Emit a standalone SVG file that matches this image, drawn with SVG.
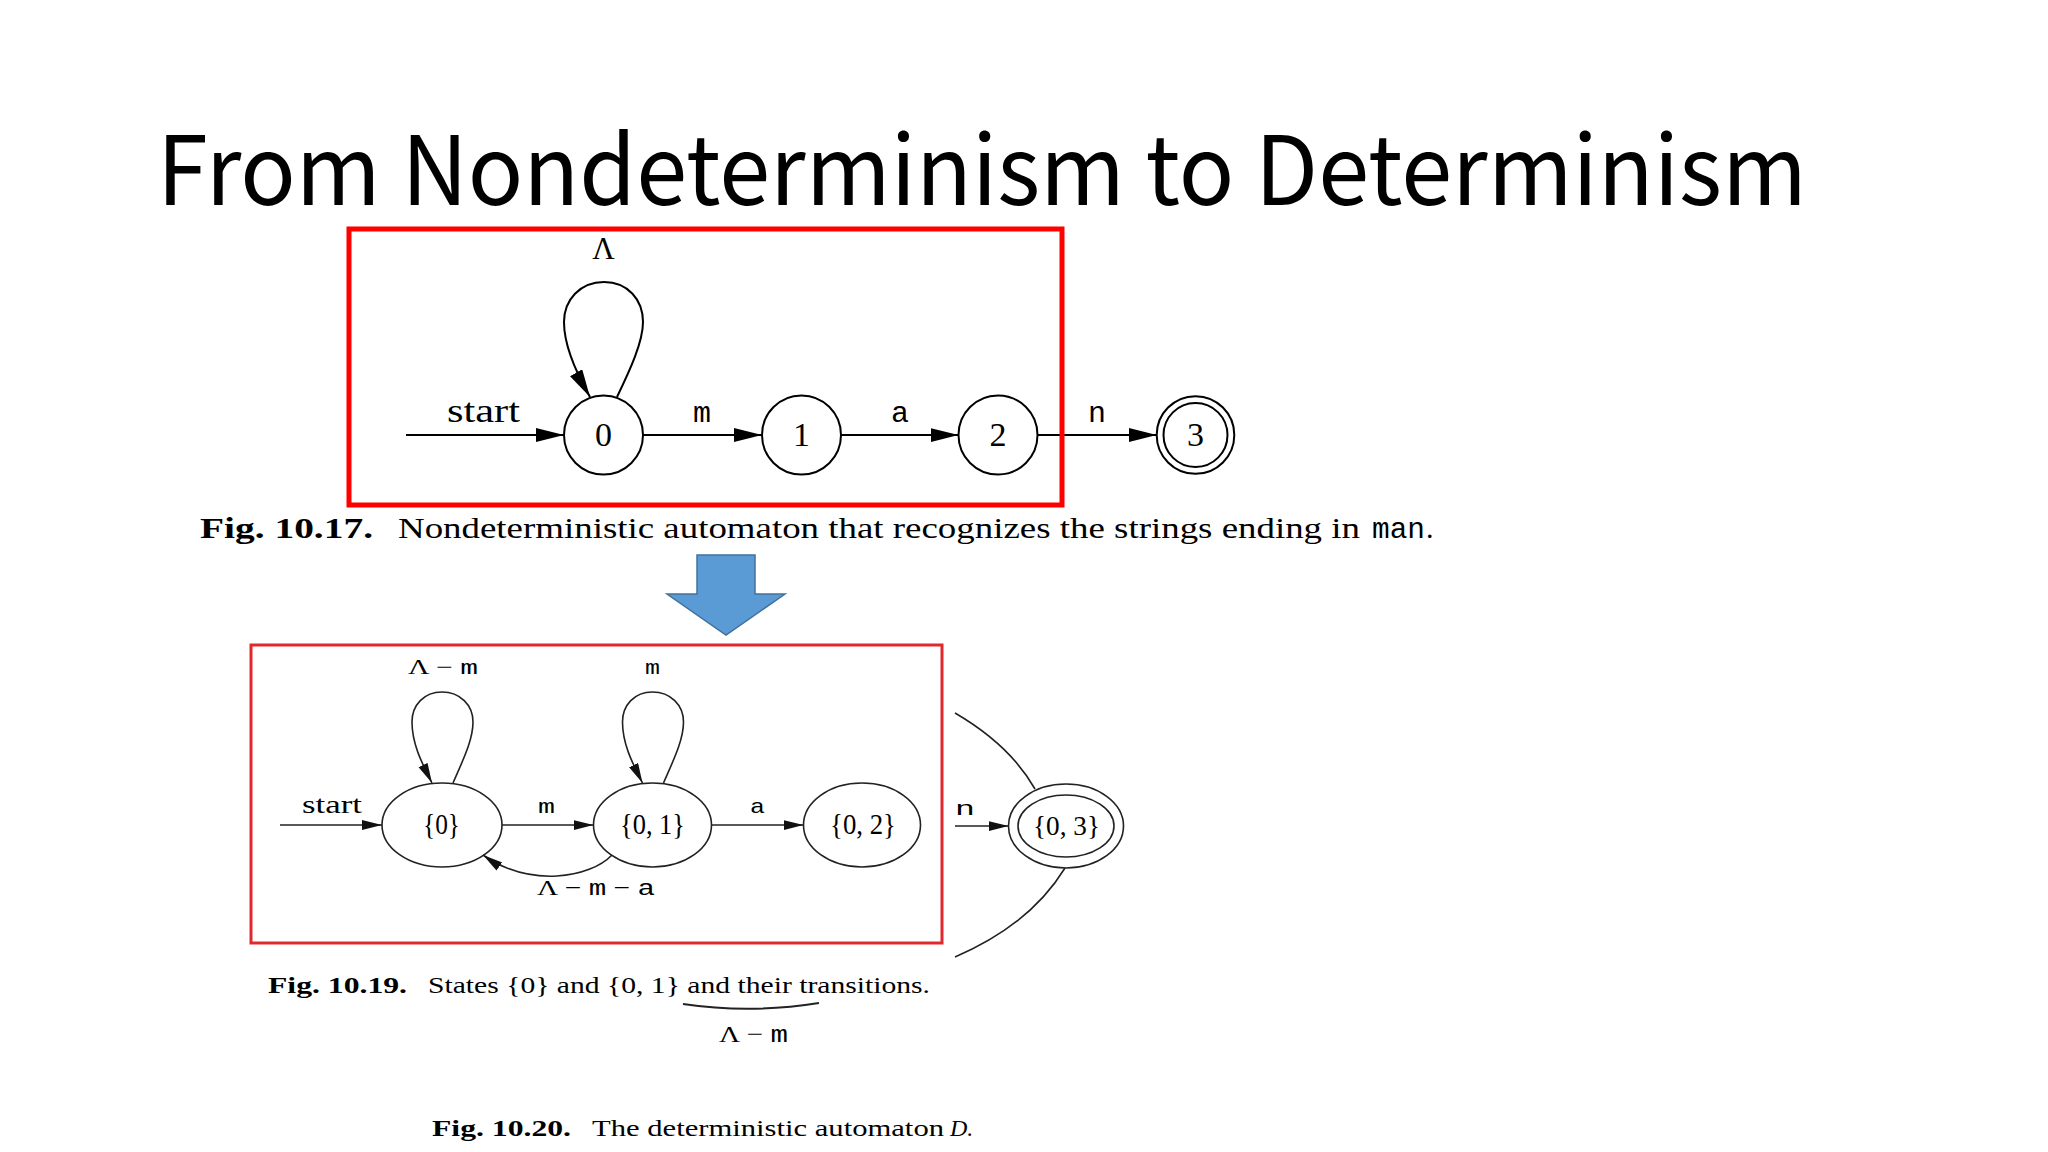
<svg xmlns="http://www.w3.org/2000/svg" width="2048" height="1152" viewBox="0 0 2048 1152">
<defs>
<marker id="ah" markerUnits="userSpaceOnUse" markerWidth="30" markerHeight="16" refX="28" refY="7" orient="auto"><path d="M0,0 L28,7 L0,14 Z" fill="#000"/></marker>
<marker id="ahs" markerUnits="userSpaceOnUse" markerWidth="22" markerHeight="12" refX="20" refY="5" orient="auto"><path d="M0,0 L20,5 L0,10 Z" fill="#111"/></marker>
<style>
.title{font-family:"Noto Sans CJK KR","Noto Sans",sans-serif;font-size:96px;fill:#000}
.serif{font-family:"Liberation Serif","Times New Roman",serif;fill:#000}
.bold{font-family:"Liberation Serif","Times New Roman",serif;font-weight:bold;fill:#000}
.mono{font-family:"Liberation Mono","Courier New",monospace;fill:#000}
.node{fill:#fff;stroke:#000;stroke-width:2}
.nodes{fill:#fff;stroke:#222;stroke-width:1.6}
.edge{fill:none;stroke:#000;stroke-width:2;marker-end:url(#ah)}
.edges{fill:none;stroke:#222;stroke-width:1.6;marker-end:url(#ahs)}
.plain{fill:none;stroke:#222;stroke-width:1.6}
</style>
</defs>
<rect width="2048" height="1152" fill="#fff"/>
<text class="title" x="157" y="205" textLength="1650" lengthAdjust="spacingAndGlyphs">From Nondeterminism to Determinism</text>

<!-- Top NFA -->
<g id="nfa-nodes">
<g id="n0"><circle class="node" cx="603.5" cy="435" r="39.5"/><text class="serif" x="603.5" y="446" font-size="34" text-anchor="middle">0</text></g>
<g id="n1"><circle class="node" cx="801.5" cy="435" r="39.5"/><text class="serif" x="801.5" y="446" font-size="34" text-anchor="middle">1</text></g>
<g id="n2"><circle class="node" cx="998" cy="435" r="39.5"/><text class="serif" x="998" y="446" font-size="34" text-anchor="middle">2</text></g>
<g id="n3"><circle class="node" cx="1195.5" cy="435" r="38.8"/><circle class="node" cx="1195.5" cy="435" r="32"/><text class="serif" x="1195.5" y="446" font-size="34" text-anchor="middle">3</text></g>
</g>
<g id="nfa-edges">
<path class="edge" d="M406 435 H564"/>
<path class="edge" d="M643 435 H762"/>
<path class="edge" d="M841 435 H958.5"/>
<path class="edge" d="M1037.5 435 H1156.7"/>
<path class="edge" d="M617 397 C630 370 643 342 643 322 C643 300 628 282 604 282 C580 282 564 300 564 322 C564 346 578 376 590 397"/>
<text class="serif" x="603.5" y="259" font-size="31" text-anchor="middle">Λ</text>
<text class="serif" x="447" y="422" font-size="34" textLength="73" lengthAdjust="spacingAndGlyphs">start</text>
<text class="mono" x="702" y="422" font-size="30" text-anchor="middle">m</text>
<text class="mono" x="900" y="422" font-size="30" text-anchor="middle">a</text>
<text class="mono" x="1097" y="422" font-size="30" text-anchor="middle">n</text>
</g>
<rect x="349" y="229" width="713" height="276" fill="none" stroke="#ff0000" stroke-width="5"/>

<!-- Caption 10.17 -->
<text class="bold" x="200" y="538" font-size="30" textLength="173" lengthAdjust="spacingAndGlyphs">Fig. 10.17.</text>
<text class="serif" x="398" y="538" font-size="30" textLength="962" lengthAdjust="spacingAndGlyphs">Nondeterministic automaton that recognizes the strings ending in</text>
<text class="mono" x="1372" y="538" font-size="30" textLength="53" lengthAdjust="spacingAndGlyphs">man</text>
<text class="serif" x="1426" y="538" font-size="30">.</text>

<!-- Blue arrow -->
<polygon points="697,555 755,555 755,594 785,594 726,635 667,594 697,594" fill="#5b9bd5" stroke="#41719c" stroke-width="1.5"/>

<!-- Lower DFA -->
<g id="dfa-nodes">
<g id="d0"><ellipse class="nodes" cx="442" cy="825" rx="60" ry="42"/><text class="serif" x="423" y="834" font-size="29" textLength="37" lengthAdjust="spacingAndGlyphs">{0}</text></g>
<g id="d01"><ellipse class="nodes" cx="652.5" cy="825" rx="59" ry="42"/><text class="serif" x="620" y="834" font-size="29" textLength="65" lengthAdjust="spacingAndGlyphs">{0, 1}</text></g>
<g id="d02"><ellipse class="nodes" cx="862" cy="825" rx="58.5" ry="42"/><text class="serif" x="830" y="834" font-size="29" textLength="66" lengthAdjust="spacingAndGlyphs">{0, 2}</text></g>
<g id="d03"><ellipse class="nodes" cx="1066" cy="826" rx="57.5" ry="42"/><ellipse class="nodes" cx="1066" cy="826" rx="48" ry="31"/><text class="serif" x="1033" y="835" font-size="28" textLength="67" lengthAdjust="spacingAndGlyphs">{0, 3}</text></g>
</g>
<g id="dfa-edges">
<path class="edges" d="M280 825 H382"/>
<path class="edges" d="M502 825 H593.5"/>
<path class="edges" d="M711.5 825 H803.5"/>
<path class="edges" d="M955 826 H1008.5"/>
<path class="edges" d="M453 783 C463 760 473 740 473 722 C473 705 460 692 442 692 C424 692 412 705 412 722 C412 745 423 765 432 783"/>
<path class="edges" d="M663.5 783 C673.5 760 683.5 740 683.5 722 C683.5 705 670.5 692 652.5 692 C634.5 692 622.5 705 622.5 722 C622.5 745 633.5 765 642.5 783"/>
<path class="edges" d="M612 855 C590 878 530 888 483 855"/>
<path class="plain" d="M955 713 Q1010 745 1035 789"/>
<path class="plain" d="M1065 868 Q1030 925 955 957"/>
<text class="serif" x="408" y="674" font-size="21" textLength="70" lengthAdjust="spacingAndGlyphs">Λ − <tspan class="mono">m</tspan></text>
<text class="mono" x="645" y="674" font-size="20" textLength="15" lengthAdjust="spacingAndGlyphs">m</text>
<text class="serif" x="302" y="813" font-size="26" textLength="60" lengthAdjust="spacingAndGlyphs">start</text>
<text class="mono" x="538" y="813" font-size="21" textLength="17" lengthAdjust="spacingAndGlyphs">m</text>
<text class="mono" x="750" y="813" font-size="21" textLength="15" lengthAdjust="spacingAndGlyphs">a</text>
<text class="mono" x="955" y="815" font-size="21" textLength="20" lengthAdjust="spacingAndGlyphs">n</text>
<text class="serif" x="537" y="895" font-size="22" textLength="118" lengthAdjust="spacingAndGlyphs">Λ − <tspan class="mono">m</tspan> − <tspan class="mono">a</tspan></text>
</g>
<rect x="251" y="645" width="691" height="298" fill="none" stroke="#e0282d" stroke-width="3"/>

<!-- Caption 10.19 -->
<text class="bold" x="268" y="993" font-size="24" textLength="139" lengthAdjust="spacingAndGlyphs">Fig. 10.19.</text>
<text class="serif" x="428" y="993" font-size="24" textLength="502" lengthAdjust="spacingAndGlyphs">States {0} and {0, 1} and their transitions.</text>
<path d="M683 1004 Q750 1014 819 1003" fill="none" stroke="#222" stroke-width="2"/>
<text class="serif" x="719" y="1042" font-size="24" textLength="69" lengthAdjust="spacingAndGlyphs">Λ − <tspan class="mono">m</tspan></text>

<!-- Caption 10.20 -->
<text class="bold" x="432" y="1136" font-size="24" textLength="139" lengthAdjust="spacingAndGlyphs">Fig. 10.20.</text>
<text class="serif" x="592" y="1136" font-size="24" textLength="352" lengthAdjust="spacingAndGlyphs">The deterministic automaton</text>
<text class="serif" x="950" y="1136" font-size="24" font-style="italic">D.</text>
</svg>
